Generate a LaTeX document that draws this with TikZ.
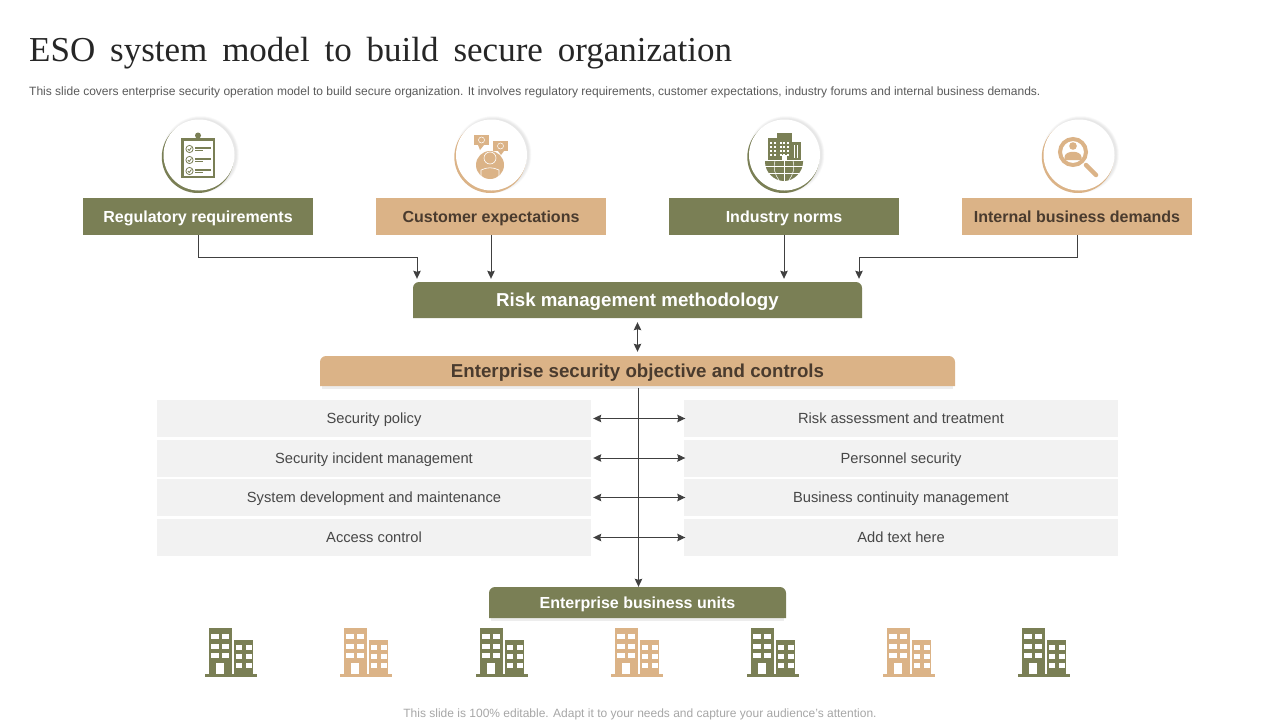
\documentclass[tikz,border=0pt]{standalone}
\usepackage{fontspec}
\setmainfont{Liberation Sans}
\newfontfamily\titlefont[WordSpace=1.7]{Liberation Serif}
\usetikzlibrary{calc,positioning,arrows.meta}
\definecolor{oliv}{HTML}{7A7F55}
\definecolor{tann}{HTML}{DBB387}
\definecolor{darktxt}{HTML}{4A3B2E}
\definecolor{rowgray}{HTML}{F2F2F2}
\newcommand{\ringicon}[2]{
  \foreach \rr in {38.5,38,37.5,37,36.5,36} {
    \fill[black,fill opacity=0.014] (#1+1.5,154.5) circle (\rr);
  }
  \fill[#2] (#1-1.2,157) circle (36);
  \fill[white] (#1,155) circle (35.5);
}
\newcommand{\officeblock}[2]{
  \begin{scope}[shift={(#1,0)}]
    \fill[#2] (0,674) rectangle (52,677);
    \fill[#2] (4,628) rectangle (27,674);
    \fill[#2] (29,640) rectangle (48,674);
    \foreach \wy in {634,643.5,653} {
      \fill[white] (6,\wy) rectangle (14,\wy+5);
      \fill[white] (17,\wy) rectangle (24,\wy+5);
    }
    \foreach \wy in {645,654,663} {
      \fill[white] (31,\wy) rectangle (37,\wy+5);
      \fill[white] (41,\wy) rectangle (47,\wy+5);
    }
    \fill[white] (11,663) rectangle (19,674);
  \end{scope}
}
\newcommand{\topround}[5]{
  \fill[#5] (#1,#4) -- (#1,#3+6) .. controls (#1,#3+2.7) and (#1+2.7,#3) .. (#1+6,#3) -- (#2-6,#3) .. controls (#2-2.7,#3) and (#2,#3+2.7) .. (#2,#3+6) -- (#2,#4) -- cycle;
}
\begin{document}
\begin{tikzpicture}[x=1pt,y=-1pt,
    headbox/.style={minimum width=230pt,minimum height=37pt,inner sep=0pt,text height=11.5pt,text depth=0pt,font=\fontsize{16}{18}\selectfont\bfseries},
    rowbox/.style={fill=rowgray,minimum width=434pt,minimum height=37pt,inner sep=0pt,text height=10.6pt,text depth=0pt,text=black!72,font=\fontsize{14.7}{17}\selectfont},
    tabtext/.style={inner sep=0pt,text height=13.5pt,text depth=0pt,font=\fontsize{18.7}{22}\selectfont\bfseries},
    conn/.style={draw=black!75,line width=1pt,-{Stealth[length=8pt,width=7.5pt,inset=1pt]}},
    biconn/.style={draw=black!75,line width=1pt,{Stealth[length=8pt,width=7.5pt,inset=1pt]}-{Stealth[length=8pt,width=7.5pt,inset=1pt]}}]
  \useasboundingbox (0,0) rectangle (1280,720);

  \node[anchor=west,inner sep=0pt,text height=23pt,text depth=0pt,text=black!85,font=\fontsize{35}{40}\selectfont\titlefont] (title) at (29,50) {ESO system model to build secure organization};
  \node[anchor=west,inner sep=0pt,text height=8.6pt,text depth=0pt,text=black!65,font=\fontsize{12.02}{14}\selectfont] (subtitle) at (29,91) {This slide covers enterprise security operation model to build secure organization. It involves regulatory requirements, customer expectations, industry forums and internal business demands.};

  \ringicon{199}{oliv}
  \ringicon{491.5}{tann}
  \ringicon{784.5}{oliv}
  \ringicon{1079}{tann}

  % clipboard
  \fill[oliv] (181,138) rectangle (215,178);
  \fill[oliv] (198,135.5) circle (3);
  \fill[white] (183.5,141) rectangle (212.5,176);
  \foreach \cy in {149,160,171} {
    \draw[oliv,line width=0.8pt] (189.5,\cy) circle (3.6);
    \draw[oliv,line width=0.8pt] (187.8,\cy) -- (189.2,\cy+1.5) -- (191.5,\cy-1.5);
    \draw[oliv,line width=1.2pt] (195,\cy-1) -- (211,\cy-1);
    \draw[oliv,line width=1.2pt] (195,\cy+1.5) -- (203,\cy+1.5);
  }

  % customer
  \fill[tann] (490,165) circle (14);
  \draw[white,line width=0.6pt] (490,158) circle (6);
  \draw[white,line width=0.6pt] (481,177) -- (481,170) to[bend left=25] (499,170) -- (499,177);
  \fill[tann] (474,135) rectangle (489,145);
  \fill[tann] (478,145) -- (484,145) -- (480,150) -- cycle;
  \fill[tann] (493,141) rectangle (508,151);
  \fill[tann] (498,151) -- (504,151) -- (501,155) -- cycle;
  \draw[white,line width=0.5pt] (481.5,140) circle (3);
  \draw[white,line width=0.5pt] (500.5,146) circle (3);

  % building on globe
  \fill[oliv] (768,138) rectangle (777,160);
  \fill[oliv] (777,133) rectangle (792,160);
  \fill[oliv] (792,142) rectangle (801,160);
  \foreach \wx in {770,773.5,779.5,783,786.5} {
    \foreach \wy in {142,146,150,154} {
      \fill[white] (\wx,\wy) rectangle (\wx+2,\wy+2);
    }
  }
  \foreach \wx in {794,797} {
    \draw[white,line width=0.6pt] (\wx,145) -- (\wx,158);
  }
  \fill[white] (782,155) rectangle (787,160);
  \fill[oliv] (765,160.5) -- (803,160.5) -- (803,162) .. controls (803,172) and (794,181) .. (784,181) .. controls (774,181) and (765,172) .. (765,162) -- cycle;
  \draw[white,line width=0.5pt] (765,166) -- (803,166);
  \draw[white,line width=0.5pt] (769,173) -- (799,173);
  \draw[white,line width=0.5pt] (784,160.5) -- (784,181);
  \draw[white,line width=0.5pt] (775,160.5) to[bend right=25] (779,180);
  \draw[white,line width=0.5pt] (793,160.5) to[bend left=25] (789,180);
  \draw[white,line width=0.8pt] (765,160.5) -- (803,160.5);

  % magnifier
  \draw[tann,line width=4pt] (1073,152) circle (13);
  \draw[tann,line width=4.5pt,line cap=round] (1086,165) -- (1096,175);
  \fill[tann] (1073,146) circle (3.8);
  \fill[tann] (1064.5,160) -- (1064.5,157) .. controls (1065,150) and (1081,150) .. (1081.5,157) -- (1081.5,160) -- cycle;

  \node[headbox,fill=oliv,text=white] (regreq) at (198,216.5) {Regulatory requirements};
  \node[headbox,fill=tann,text=darktxt] (custexp) at (491,216.5) {Customer expectations};
  \node[headbox,fill=oliv,text=white] (indnorm) at (784,216.5) {Industry norms};
  \node[headbox,fill=tann,text=darktxt] (intdem) at (1077,216.5) {Internal business demands};

  \topround{413}{862}{282}{318}{oliv}
  \node[tabtext,text=white,minimum width=449pt,minimum height=36pt] (riskm) at (637.5,300) {Risk management methodology};

  \fill[black!7] (322,386) rectangle (953,389);
  \topround{320}{955}{356}{386}{tann}
  \node[tabtext,text=darktxt,minimum width=635pt,minimum height=30pt] (secobj) at (637.5,371) {Enterprise security objective and controls};

  \node[rowbox] (l1) at (374,418.5) {Security policy};
  \node[rowbox] (l2) at (374,458) {Security incident management};
  \node[rowbox] (l3) at (374,497.5) {System development and maintenance};
  \node[rowbox] (l4) at (374,537.5) {Access control};
  \node[rowbox] (r1) at (901,418.5) {Risk assessment and treatment};
  \node[rowbox] (r2) at (901,458) {Personnel security};
  \node[rowbox] (r3) at (901,497.5) {Business continuity management};
  \node[rowbox] (r4) at (901,537.5) {Add text here};

  \fill[black!7] (491,618) rectangle (784,621);
  \topround{489}{786}{587}{618}{oliv}
  \node[inner sep=0pt,minimum width=297pt,minimum height=31pt,text height=11.5pt,text depth=0pt,text=white,font=\fontsize{16}{18}\selectfont\bfseries] (bizunits) at (637.5,602.5) {Enterprise business units};

  \coordinate (regbend) at (417,257);
  \coordinate (intbend) at (859,257);
  \coordinate (vtop) at (638.5,388);
  \draw[conn,shorten >=3pt] (regreq.south) |- (regbend) -- (regbend |- riskm.north);
  \draw[conn,shorten >=3pt] (custexp.south) -- (custexp.south |- riskm.north);
  \draw[conn,shorten >=3pt] (indnorm.south) -- (indnorm.south |- riskm.north);
  \draw[conn,shorten >=3pt] (intdem.south) |- (intbend) -- (intbend |- riskm.north);
  \draw[biconn,shorten <=4pt,shorten >=4pt] (riskm.south) -- (secobj.north);
  \draw[conn] (vtop) -- (vtop |- bizunits.north);
  \foreach \i in {1,2,3,4} {
    \draw[biconn,shorten <=2pt,shorten >=-1.5pt] (l\i.east) -- (r\i.west);
  }

  \officeblock{205}{oliv}
  \officeblock{340}{tann}
  \officeblock{476}{oliv}
  \officeblock{611}{tann}
  \officeblock{747}{oliv}
  \officeblock{883}{tann}
  \officeblock{1018}{oliv}

  \node[inner sep=0pt,text height=8.6pt,text depth=0pt,text=black!35,font=\fontsize{12}{14}\selectfont] (footer) at (640,713) {This slide is 100\% editable. Adapt it to your needs and capture your audience's attention.};
\end{tikzpicture}
\end{document}
